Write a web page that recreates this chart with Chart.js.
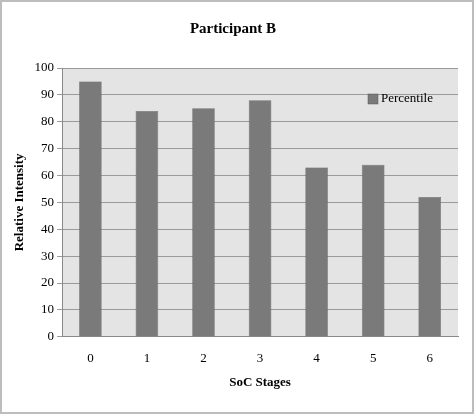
<!DOCTYPE html>
<html><head><meta charset="utf-8">
<script src="https://cdn.jsdelivr.net/npm/chart.js@4"></script>
<style>
html,body{margin:0;padding:0;background:#fff;}
#wrap{position:absolute;left:0;top:0;width:470px;height:410px;border:2px solid #bdbdbd;}
</style></head><body>
<div id="wrap"><canvas id="c" width="470" height="410"></canvas></div>
<script>
const categories=['0','1','2','3','4','5','6'];
const percentile=[95,84,85,88,63,64,52];
const yTicks=[0,10,20,30,40,50,60,70,80,90,100];
const F='"Liberation Serif", serif';
const bgPlugin={id:'bg',beforeDraw(ch){const a=ch.chartArea,x=ch.ctx;x.save();x.fillStyle='#e4e4e4';x.fillRect(a.left,a.top,a.right-a.left,a.bottom-a.top);x.restore();},
afterDraw(ch){const x=ch.ctx;x.save();x.fillStyle='#7a7a7a';x.strokeStyle='#555';x.lineWidth=0.5;x.fillRect(366,92,10,10);x.strokeRect(366,92,10,10);x.fillStyle='#000';x.font='13px '+F;x.textBaseline='middle';x.fillText('Percentile',379,97);x.restore();}};
new Chart(document.getElementById('c'),{type:'bar',
data:{labels:categories,datasets:[{label:'Percentile',data:percentile,backgroundColor:'#7a7a7a',borderColor:'#555',borderWidth:0.5,barPercentage:0.4,categoryPercentage:1}]},
options:{responsive:false,animation:false,
layout:{padding:{left:6,right:14,top:0,bottom:18}},
plugins:{legend:{display:false},title:{display:true,text:'Participant B',color:'#000',font:{family:F,size:15,weight:'bold'},padding:{top:18,bottom:30}}},
scales:{x:{grid:{display:false},border:{color:'#888'},ticks:{color:'#000',padding:6,font:{family:F,size:13}},title:{display:true,text:'SoC Stages',color:'#000',font:{family:F,size:13,weight:'bold'},padding:{top:2}}},
y:{min:0,max:100,afterBuildTicks(s){s.ticks=yTicks.map(v=>({value:v}));},grid:{color:'#9a9a9a',drawTicks:true,tickLength:5},border:{color:'#888'},ticks:{color:'#000',font:{family:F,size:13}},title:{display:true,text:'Relative Intensity',color:'#000',font:{family:F,size:13,weight:'bold'}}}}},
plugins:[bgPlugin]});
</script></body></html>
